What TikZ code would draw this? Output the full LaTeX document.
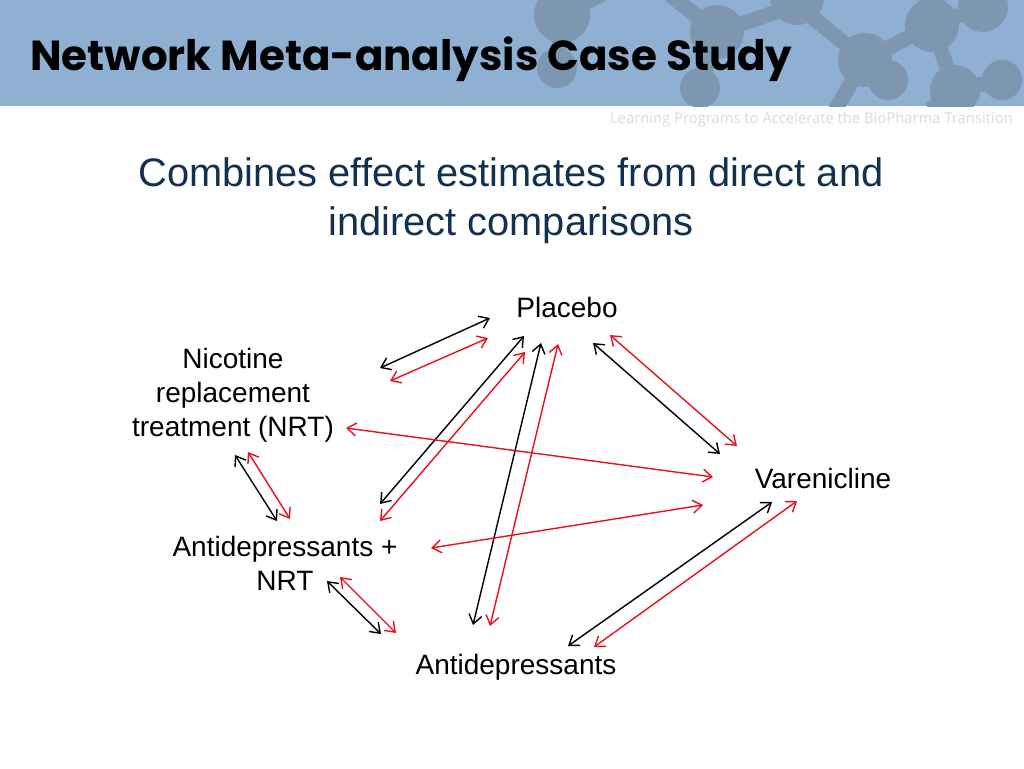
\documentclass[tikz,border=0pt]{standalone}
\usepackage{fontspec}
\setmainfont[Ligatures=NoCommon]{Liberation Sans}
\newfontfamily\titlefont{Poppins}
\newfontfamily\tagfont{Open Sans}
\usetikzlibrary{arrows.meta}
\definecolor{bannerblue}{HTML}{8FB0D2}
\definecolor{atomblue}{HTML}{7E97B0}
\definecolor{subnavy}{HTML}{12304F}
\definecolor{tagrey}{HTML}{DADADA}
\definecolor{linkred}{HTML}{E8101C}

\begin{document}
\begin{tikzpicture}[x=1pt,y=-1pt]
        % Pixel coordinates, one pt for each pixel of the slide
        \tikzstyle{drug}=[align=center, font=\fontsize{28}{34}\selectfont]
        \tikzstyle{direct}=[draw=black, line width=1.4pt, {Straight Barb[length=9pt,width=13pt]}-{Straight Barb[length=9pt,width=13pt]}]
        \tikzstyle{indirect}=[direct, draw=linkred]

        \useasboundingbox (0,0) rectangle (1024,768);

        % Banner with the molecule behind the title
        \fill[bannerblue] (0,0) rectangle (1024,106);
        \begin{scope}
          \clip (0,0) rectangle (1024,106);
          \foreach \xa/\ya/\xb/\yb in {562/15/557/68, 562/15/610/-10, 717/32/670/-5, 717/32/797/5, 717/32/700/88, 700/88/700/110, 797/5/865/60, 865/60/932/25, 865/60/835/110, 932/25/983/7, 932/25/955/90, 955/90/1002/80, 955/90/930/110}
            \draw[atomblue, line width=15pt] (\xa,\ya) -- (\xb,\yb);
          \foreach \xa/\ya/\ra in {562/15/28, 557/68/20, 717/32/27, 700/88/20, 797/-2/27, 865/60/27, 888/80/20, 932/25/27, 983/7/25, 955/90/25, 1002/80/20}
            \fill[atomblue] (\xa,\ya) circle (\ra);
        \end{scope}

        \node[anchor=west, inner sep=0pt, font=\titlefont\bfseries\fontsize{42}{48}\selectfont] (title) at (30,59) {Network Meta-analysis Case Study};
        \node[anchor=east, inner sep=0pt, text=tagrey, font=\tagfont\fontsize{14.8}{18}\selectfont] (tagline) at (1013,120) {Learning Programs to Accelerate the BioPharma Transition};
        \node[align=center, inner sep=0pt, text=subnavy, font=\fontsize{39.8}{49}\selectfont] (subtitle) at (511,201) {Combines effect estimates from direct and\\indirect comparisons};

        \node[drug] (placebo) at (567,307) {Placebo};
        \node[drug] (nrt) at (233,395) {Nicotine\\replacement\\treatment (NRT)};
        \node[drug] (varenicline) at (823,478) {Varenicline};
        \node[drug] (adnrt) at (285,563) {Antidepressants +\\NRT};
        \node[drug] (antidep) at (516,667) {Antidepressants};

        % Free ends of the arrows, k for black and r for red
        \coordinate (nrtplak) at (380,368);
        \coordinate (planrtk) at (490,318);
        \coordinate (nrtplar) at (390,381);
        \coordinate (planrtr) at (488,338);
        \coordinate (adnplak) at (380,504);
        \coordinate (plaadnk) at (524,336);
        \coordinate (adnplar) at (380,521);
        \coordinate (plaadnr) at (525,352);
        \coordinate (plaadk) at (541,343);
        \coordinate (adplak) at (473,625);
        \coordinate (plaadr) at (558,344);
        \coordinate (adplar) at (490,626);
        \coordinate (plavark) at (593,343);
        \coordinate (varplak) at (720,454);
        \coordinate (plavarr) at (610,335);
        \coordinate (varplar) at (737,446);
        \coordinate (nrtvarr) at (346,428);
        \coordinate (varnrtr) at (713,477);
        \coordinate (adnvarr) at (431,548);
        \coordinate (varadnr) at (703,505);
        \coordinate (varadk) at (772,502);
        \coordinate (advark) at (568,646);
        \coordinate (varadr) at (797,501);
        \coordinate (advarr) at (594,647);
        \coordinate (nrtadnk) at (235,455);
        \coordinate (adnnrtk) at (277,521);
        \coordinate (nrtadnr) at (248,452);
        \coordinate (adnnrtr) at (290,519);
        \coordinate (adnadk) at (327,581);
        \coordinate (adadnk) at (381,634);
        \coordinate (adnadr) at (340,577);
        \coordinate (adadnr) at (396,633);

        \draw[direct] (nrtplak) -- (planrtk);
        \draw[indirect] (nrtplar) -- (planrtr);
        \draw[direct] (adnplak) -- (plaadnk);
        \draw[indirect] (adnplar) -- (plaadnr);
        \draw[direct] (plaadk) -- (adplak);
        \draw[indirect] (plaadr) -- (adplar);
        \draw[direct] (plavark) -- (varplak);
        \draw[indirect] (plavarr) -- (varplar);
        \draw[indirect] (nrtvarr) -- (varnrtr);
        \draw[indirect] (adnvarr) -- (varadnr);
        \draw[direct] (varadk) -- (advark);
        \draw[indirect] (varadr) -- (advarr);
        \draw[direct] (nrtadnk) -- (adnnrtk);
        \draw[indirect] (nrtadnr) -- (adnnrtr);
        \draw[direct] (adnadk) -- (adadnk);
        \draw[indirect] (adnadr) -- (adadnr);
      \end{tikzpicture}
\end{document}
